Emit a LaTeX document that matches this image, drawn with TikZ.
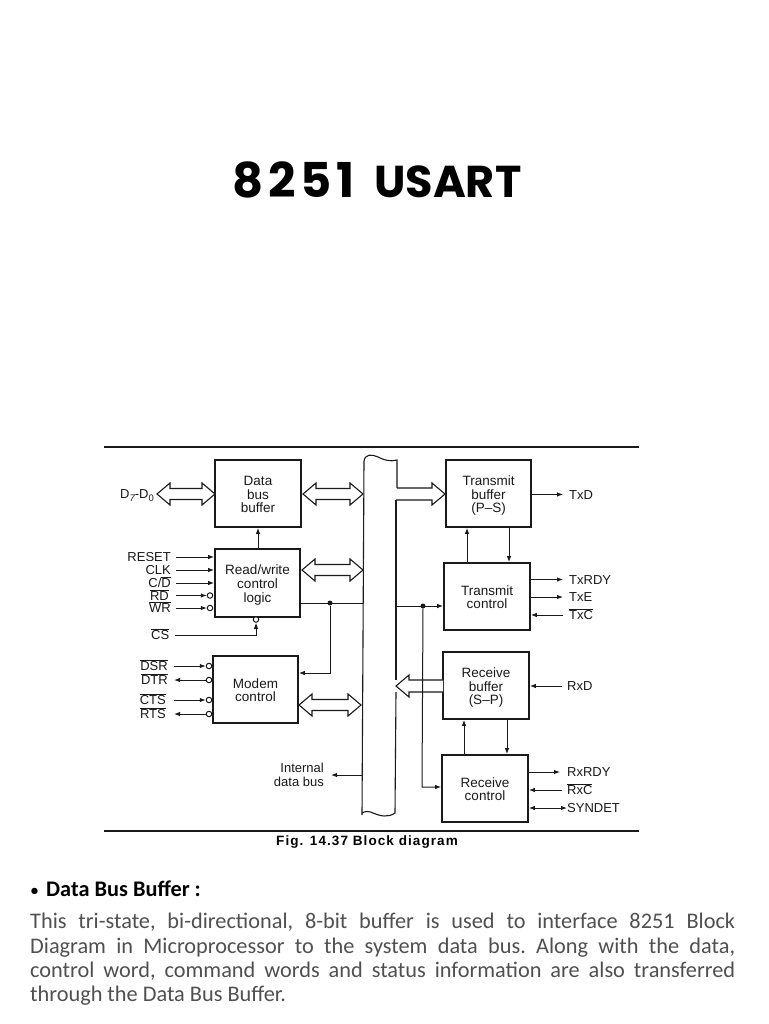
\documentclass[tikz,border=0pt]{standalone}
\usepackage{fontspec}
\setmainfont{Carlito}
\newfontfamily\diagfont{Liberation Sans}
\newfontfamily\titlefont{Poppins}
\newfontfamily\titlespaced[LetterSpace=10]{Poppins}
\usetikzlibrary{arrows.meta,calc}
\definecolor{bodygray}{HTML}{505050}
\definecolor{ink}{HTML}{1A1A1A}
\newcommand{\ol}[1]{$\overline{\mbox{#1}}$}
\newcommand{\blk}[1]{\begin{tabular}{@{}c@{}}\rule{0pt}{15pt}#1\end{tabular}}
\tikzset{
  block/.style={draw=ink,line width=1.7pt,fill=white,inner sep=0pt,font=\diagfont\fontsize{13.5}{13.2}\selectfont,text=ink},
  lbl/.style={inner sep=0pt,font=\diagfont\fontsize{13}{14}\selectfont,text=ink},
  sig/.style={lbl,text height=9.4pt,text depth=0pt},
  wire/.style={draw=ink,line width=1pt},
  arr/.style={wire,-{Latex[length=6pt,width=4.5pt]}},
  arrb/.style={wire,{Latex[length=6pt,width=4.5pt]}-{Latex[length=6pt,width=4.5pt]}},
  hollow/.style={draw=ink,line width=1.1pt,fill=white,line join=miter},
  bubble/.style={circle,draw=ink,line width=1pt,fill=white,inner sep=0pt,minimum size=5.5pt},
  dotnode/.style={circle,fill=ink,inner sep=0pt,minimum size=5pt},
  pt/.style={inner sep=0pt,minimum size=0pt}
}
\newcommand{\bi}[2]{% two-headed hollow arrow between named coordinates
  \draw[hollow] ($(#1)$) -- ($(#1)+(13,-11)$) -- ($(#1)+(13,-5.5)$) -- ($(#2)+(-13,-5.5)$) -- ($(#2)+(-13,-11)$) -- ($(#2)$) -- ($(#2)+(-13,11)$) -- ($(#2)+(-13,5.5)$) -- ($(#1)+(13,5.5)$) -- ($(#1)+(13,11)$) -- cycle;}
\begin{document}
\begin{tikzpicture}[x=1pt,y=-1pt]
\useasboundingbox[fill=white] (0,0) rectangle (768,1024);
% title
\node[pt,anchor=base west] (title) at (232,198) {\titlespaced\bfseries\fontsize{48}{50}\selectfont 8251};
\node[pt,anchor=base west] (title2) at (374,198) {\titlefont\bfseries\fontsize{44.6}{50}\selectfont USART};
% rules
\coordinate (r1a) at (104,447); \coordinate (r1b) at (639,447);
\coordinate (r2a) at (104,831); \coordinate (r2b) at (639,831);
\draw[draw=ink,line width=1.2pt] (r1a) -- (r1b);
\draw[draw=ink,line width=1.4pt] (r2a) -- (r2b);
\node[pt,anchor=base] (cap) at (367,845) {\diagfont\bfseries\fontsize{13.5}{14}\selectfont\addfontfeatures{LetterSpace=8}Fig. 14.37 Block diagram};
% bus
\draw[draw=ink,line width=1.1pt] (362,815) -- (364,461) .. controls (365,454) and (372,454) .. (378,457) .. controls (384,460) and (390,462) .. (397,460) -- (397,488);
\draw[draw=ink,line width=1.1pt] (396,500) -- (396,680);
\draw[draw=ink,line width=1.1pt] (396,692) -- (395,813) .. controls (388,818) and (380,816) .. (373,813) .. controls (369,811) and (365,811) .. (362,813);
% blocks
\node[block,minimum width=86pt,minimum height=67pt] (dbb) at (258,493.5) {\blk{Data\\bus\\buffer}};
\node[block,minimum width=85pt,minimum height=68pt] (rw) at (257.5,583) {\blk{Read/write\\control\\logic}};
\node[block,minimum width=85pt,minimum height=67pt] (modem) at (255.5,689.5) {\blk{Modem\\control}};
\node[block,minimum width=85pt,minimum height=67pt] (tb) at (488.5,493.5) {\blk{Transmit\\buffer\\(P–S)}};
\node[block,minimum width=86pt,minimum height=67pt] (tc) at (487,596.5) {\blk{Transmit\\control}};
\node[block,minimum width=86pt,minimum height=67pt] (rb) at (486,685.5) {\blk{Receive\\buffer\\(S–P)}};
\node[block,minimum width=86pt,minimum height=67pt] (rc) at (485,788.5) {\blk{Receive\\control}};
% hollow arrows
\coordinate (h1a) at (157,494); \coordinate (h1b) at (215,494); \bi{h1a}{h1b}
\coordinate (h2a) at (303,494); \coordinate (h2b) at (363,494); \bi{h2a}{h2b}
\coordinate (h3a) at (302,570); \coordinate (h3b) at (363,570); \bi{h3a}{h3b}
\coordinate (h4a) at (299,705); \coordinate (h4b) at (361,705); \bi{h4a}{h4b}
\coordinate (h5a) at (397,494); \coordinate (h5b) at (445,494);
\draw[hollow] (h5a) ++(0,-6) -- (432,488) -- (432,483) -- (h5b) -- (432,505) -- (432,500) -- (396,500);
\coordinate (h6a) at (443,686); \coordinate (h6b) at (396,686);
\draw[hollow] (h6a) ++(0,-6) -- (409,680) -- (409,675) -- (h6b) -- (409,697) -- (409,692) -- (443,692);
% left inputs
\node[sig,anchor=east] (d70) at (154,494) {D\raisebox{-2.5pt}{\fontsize{9.5}{10}\selectfont\itshape 7}-D\raisebox{-2.5pt}{\fontsize{9.5}{10}\selectfont 0}};
\foreach \n/\t/\y in {lreset/RESET/557,lclk/CLK/570,lcd/{C/\ol{D}}/583}{
  \node[sig,anchor=east] (\n) at (171,\y) {\t};
  \coordinate (\n e) at (rw.west |- 0,\y);
  \draw[arr] (176,\y) -- (\n e);
}
\node[sig,anchor=east] (lrd) at (169,595.5) {\ol{RD}};
\node[bubble] (lrdb) at (210,595.5) {};
\draw[arr] (176,595.5) -- (lrdb);
\node[sig,anchor=east] (lwr) at (171,608) {\ol{WR}};
\node[bubble] (lwrb) at (210,608) {};
\draw[arr] (176,608) -- (lwrb);
\node[sig,anchor=east] (lcs) at (169.5,635) {\ol{CS}};
\node[bubble] (csb) at (256,619.5) {};
\draw[arr] (lcs.east) ++(5,0) -| (csb);
\draw[arr] (rw.north -| dbb.south) -- (dbb.south);
% modem signals
\node[sig,anchor=east] (ldsr) at (168,666) {\ol{DSR}};
\node[bubble] (bdsr) at (209,666) {};
\draw[arr] (174,666) -- (bdsr);
\node[sig,anchor=east] (ldtr) at (168,680) {\ol{DTR}};
\node[bubble] (bdtr) at (209,680) {};
\draw[arr] (bdtr) -- (174,680);
\node[sig,anchor=east] (lcts) at (166,700) {\ol{CTS}};
\node[bubble] (bcts) at (209,700) {};
\draw[arr] (174,700) -- (bcts);
\node[sig,anchor=east] (lrts) at (166,714) {\ol{RTS}};
\node[bubble] (brts) at (209,714) {};
\draw[arr] (brts) -- (174,714);
% internal wires
\coordinate (busl) at (363,603);
\node[dotnode] (j1) at (330,603) {};
\draw[wire] (300,603) -- (busl);
\coordinate (mj) at (330,673);
\draw[arr] (j1) -- (mj) -- (modem.east |- mj);
\coordinate (busr) at (396,606);
\draw[arr] (busr) -- (tc.west |- busr);
\node[dotnode] (j2) at (423,606) {};
\coordinate (rj) at (422,787);
\draw[arr] (j2) -- (rj) -- (rc.west |- rj);
\coordinate (ib) at (362,775);
\node[lbl,align=right,anchor=east] (ibl) at (324,775) {Internal\\data bus};
\draw[arr] (ib) -- (331,775);
% between boxes
\draw[arr] (tc.north -| 467,0) -- (tb.south -| 467,0);
\draw[arr] (tb.south -| 509,0) -- (tc.north -| 509,0);
\draw[arr] (rc.north -| 464,0) -- (rb.south -| 464,0);
\draw[arr] (rb.south -| 507,0) -- (rc.north -| 507,0);
% right labels
\node[sig,anchor=west] (txd) at (569,494.5) {TxD};
\draw[arr] (tb.east |- txd) -- (563,494.5);
\node[sig,anchor=west] (txrdy) at (569,579.5) {TxRDY};
\draw[arr] (tc.east |- txrdy) -- (563,579.5);
\node[sig,anchor=west] (txe) at (569,597) {TxE};
\draw[arr] (tc.east |- txe) -- (563,597);
\node[sig,anchor=west] (txc) at (569,615) {\ol{TxC}};
\draw[arr] (563,615) -- (tc.east |- txc);
\node[sig,anchor=west] (rxd) at (567,686) {RxD};
\draw[arr] (562,686) -- (rb.east |- rxd);
\node[sig,anchor=west] (rxrdy) at (567,772) {RxRDY};
\draw[arr] (rc.east |- rxrdy) -- (560,772);
\node[sig,anchor=west] (rxc) at (567,790) {\ol{RxC}};
\draw[arr] (562,790) -- (rc.east |- rxc);
\node[sig,anchor=west] (syn) at (567,808) {SYNDET};
\draw[arrb] (rc.east |- syn) -- (syn.west);
% text
\node[pt,anchor=base west] (bhead) at (30,896) {\fontsize{18}{25}\selectfont\textbullet};
\node[pt,anchor=base west] (bhead2) at (46,896) {\fontsize{22.3}{25}\selectfont\bfseries Data Bus Buffer :};
\node[pt,anchor=north west,text width=705pt,align=justify,text=bodygray] (body) at (30,913) {\fontsize{22.3}{24.4}\selectfont\frenchspacing This tri-state, bi-directional, 8-bit buffer is used to interface 8251 Block\linebreak Diagram in Microprocessor to the system data bus. Along with the data,\linebreak control word, command words and status information are also transferred\linebreak through the Data Bus Buffer.\par};
\end{tikzpicture}
\end{document}
